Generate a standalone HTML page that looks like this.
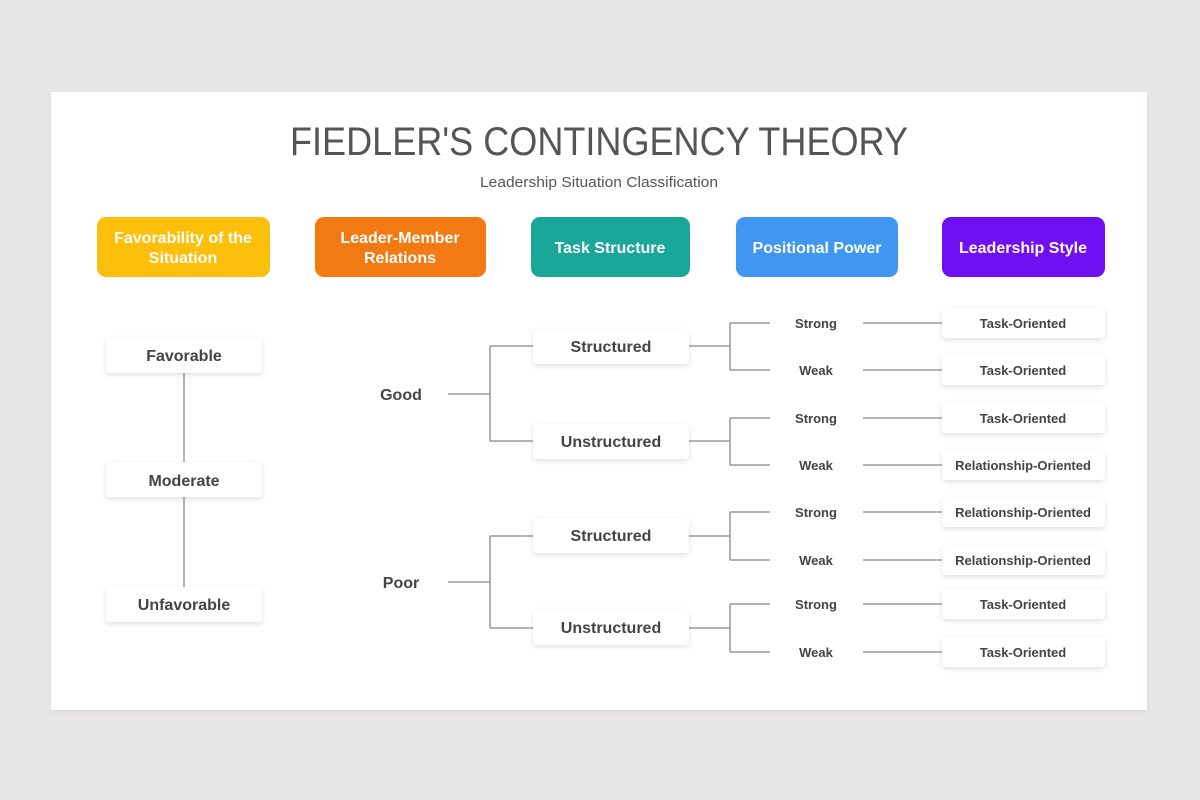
<!DOCTYPE html>
<html><head><meta charset="utf-8"><style>
html,body{margin:0;padding:0;background:#e8e6e7;}
svg{display:block;}
text{font-family:"Liberation Sans",sans-serif;}
</style></head><body>
<svg width="1200" height="800" viewBox="0 0 1200 800" xmlns="http://www.w3.org/2000/svg">
<defs>
<filter id="sh" x="-20%" y="-40%" width="140%" height="180%"><feDropShadow dx="0" dy="2" stdDeviation="3" flood-color="#000" flood-opacity="0.12"/></filter>
<filter id="sh2" x="-5%" y="-5%" width="110%" height="110%"><feDropShadow dx="0" dy="1" stdDeviation="2" flood-color="#000" flood-opacity="0.08"/></filter>
</defs>
<rect x="0" y="0" width="1200" height="800" fill="#e8e6e7"/>
<rect x="51" y="92" width="1096" height="618" fill="#fff" filter="url(#sh2)"/>
<text x="599" y="155" text-anchor="middle" font-size="40" fill="#555" textLength="618" lengthAdjust="spacingAndGlyphs">FIEDLER'S CONTINGENCY THEORY</text>
<text x="599" y="187" text-anchor="middle" font-size="15" fill="#555" textLength="238" lengthAdjust="spacingAndGlyphs">Leadership Situation Classification</text>

<g font-weight="bold" font-size="16" fill="#fff" text-anchor="middle">
<rect x="97" y="217" width="173" height="60" rx="9" fill="#fbbf0c"/>
<text x="183" y="243">Favorability of the</text><text x="183" y="263">Situation</text>
<rect x="315" y="217" width="171" height="60" rx="9" fill="#f17b12"/>
<text x="400" y="243">Leader-Member</text><text x="400" y="263">Relations</text>
<rect x="531" y="217" width="159" height="60" rx="9" fill="#1aa698"/>
<text x="610" y="253">Task Structure</text>
<rect x="736" y="217" width="162" height="60" rx="9" fill="#3f97f2"/>
<text x="817" y="253">Positional Power</text>
<rect x="942" y="217" width="163" height="60" rx="9" fill="#7010f2"/>
<text x="1023" y="253">Leadership Style</text>
</g>

<g stroke="#888" stroke-width="1.3" fill="none">
<line x1="184" y1="373" x2="184" y2="462"/>
<line x1="184" y1="497" x2="184" y2="587"/>
<path d="M448 394H490M490 346V441M490 346H533M490 441H533"/>
<path d="M448 582H490M490 536V628M490 536H533M490 628H533"/>
<path d="M689 346H730M730 323V370M730 323H770M730 370H770"/>
<path d="M689 441H730M730 418V465M730 418H770M730 465H770"/>
<path d="M689 536H730M730 512V560M730 512H770M730 560H770"/>
<path d="M689 628H730M730 604V652M730 604H770M730 652H770"/>
<path d="M863 323H942M863 370H942M863 418H942M863 465H942M863 512H942M863 560H942M863 604H942M863 652H942"/>
</g>

<g fill="#fff" filter="url(#sh)">
<rect x="106" y="338" width="156" height="35" rx="4"/>
<rect x="106" y="462" width="156" height="35" rx="4"/>
<rect x="106" y="587" width="156" height="35" rx="4"/>
<rect x="533" y="329" width="156" height="35" rx="4"/>
<rect x="533" y="424" width="156" height="35" rx="4"/>
<rect x="533" y="518" width="156" height="35" rx="4"/>
<rect x="533" y="610" width="156" height="35" rx="4"/>
<rect x="942" y="308" width="163" height="30" rx="4"/>
<rect x="942" y="355" width="163" height="30" rx="4"/>
<rect x="942" y="403" width="163" height="30" rx="4"/>
<rect x="942" y="450" width="163" height="30" rx="4"/>
<rect x="942" y="497" width="163" height="30" rx="4"/>
<rect x="942" y="545" width="163" height="30" rx="4"/>
<rect x="942" y="589" width="163" height="30" rx="4"/>
<rect x="942" y="637" width="163" height="30" rx="4"/>
</g>

<g font-weight="bold" font-size="16" fill="#444" text-anchor="middle">
<text x="184" y="361">Favorable</text>
<text x="184" y="486">Moderate</text>
<text x="184" y="610">Unfavorable</text>
<text x="401" y="400">Good</text>
<text x="401" y="588">Poor</text>
<text x="611" y="352">Structured</text>
<text x="611" y="447">Unstructured</text>
<text x="611" y="541">Structured</text>
<text x="611" y="633">Unstructured</text>
</g>
<g font-weight="bold" font-size="13" fill="#444" text-anchor="middle">
<text x="816" y="328">Strong</text>
<text x="816" y="375">Weak</text>
<text x="816" y="423">Strong</text>
<text x="816" y="470">Weak</text>
<text x="816" y="517">Strong</text>
<text x="816" y="565">Weak</text>
<text x="816" y="609">Strong</text>
<text x="816" y="657">Weak</text>
<text x="1023" y="328">Task-Oriented</text>
<text x="1023" y="375">Task-Oriented</text>
<text x="1023" y="423">Task-Oriented</text>
<text x="1023" y="470">Relationship-Oriented</text>
<text x="1023" y="517">Relationship-Oriented</text>
<text x="1023" y="565">Relationship-Oriented</text>
<text x="1023" y="609">Task-Oriented</text>
<text x="1023" y="657">Task-Oriented</text>
</g>
</svg>
</body></html>
